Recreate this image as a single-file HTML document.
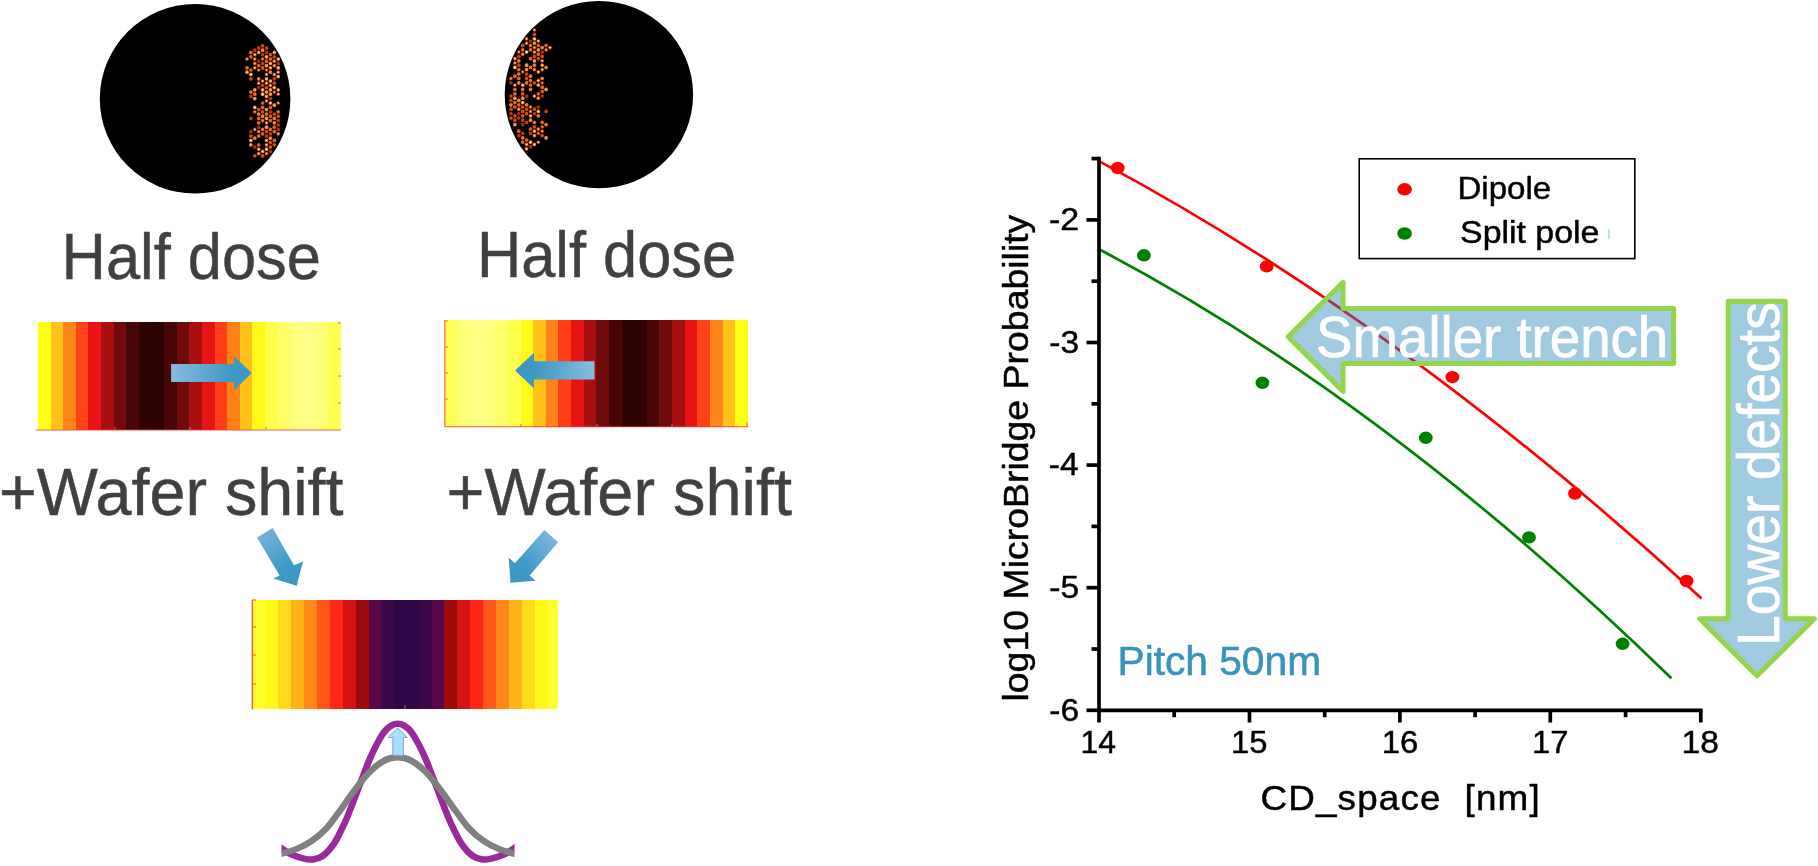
<!DOCTYPE html>
<html lang="en"><head><meta charset="utf-8"><title>Split pole illumination: half dose + wafer shift</title>
<style>
html,body{margin:0;padding:0;background:#fff;}
body{width:1818px;height:866px;overflow:hidden;}
svg{display:block;position:absolute;left:0;top:0;filter:blur(0.35px);}
text{font-family:"Liberation Sans",sans-serif;white-space:pre;}
</style></head><body>
<svg width="1818" height="866" viewBox="0 0 1818 866">
<defs>
<linearGradient id="gR" x1="0" y1="0" x2="1" y2="0"><stop offset="0" stop-color="#86bce0"/><stop offset="0.75" stop-color="#3f99c4"/><stop offset="1" stop-color="#3a98c6"/></linearGradient>
<linearGradient id="gL" x1="1" y1="0" x2="0" y2="0"><stop offset="0" stop-color="#86bce0"/><stop offset="0.75" stop-color="#3f99c4"/><stop offset="1" stop-color="#3a98c6"/></linearGradient>
<linearGradient id="gD1" x1="0.2" y1="0" x2="0.8" y2="1"><stop offset="0" stop-color="#74b2dd"/><stop offset="0.7" stop-color="#3f9ac5"/><stop offset="1" stop-color="#3c99c4"/></linearGradient>
<linearGradient id="gD2" x1="0.9" y1="0.1" x2="0.1" y2="0.9"><stop offset="0" stop-color="#7cb6e0"/><stop offset="0.7" stop-color="#3f9ac5"/><stop offset="1" stop-color="#3c99c4"/></linearGradient>
<clipPath id="c1"><ellipse cx="195.1" cy="98.8" rx="95.3" ry="94.8"/></clipPath>
<clipPath id="c2"><ellipse cx="598.9" cy="94.6" rx="94.2" ry="93.7"/></clipPath>
</defs>
<ellipse cx="195.1" cy="98.8" rx="95.3" ry="94.8" fill="#000"/>
<ellipse cx="598.9" cy="94.6" rx="94.2" ry="93.7" fill="#000"/>
<g clip-path="url(#c1)"><circle cx="247.0" cy="59.0" r="1.85" fill="#d04a0e"/><circle cx="247.0" cy="59.0" r="0.9" fill="#ffb870"/><circle cx="247.0" cy="67.8" r="1.85" fill="#e86c1c"/><circle cx="247.0" cy="72.2" r="1.85" fill="#f08830"/><circle cx="247.0" cy="72.2" r="0.9" fill="#ffc890"/><circle cx="250.9" cy="52.4" r="1.85" fill="#e86c1c"/><circle cx="250.9" cy="56.8" r="1.85" fill="#e86418"/><circle cx="250.9" cy="70.0" r="1.85" fill="#e05a14"/><circle cx="250.9" cy="74.4" r="1.85" fill="#f89848"/><circle cx="250.9" cy="74.4" r="0.9" fill="#fff0e0"/><circle cx="250.9" cy="78.8" r="1.85" fill="#d04a0e"/><circle cx="250.9" cy="92.0" r="1.85" fill="#f07820"/><circle cx="250.9" cy="96.4" r="1.85" fill="#b8380a"/><circle cx="250.9" cy="118.4" r="1.85" fill="#b8380a"/><circle cx="250.9" cy="131.6" r="1.85" fill="#a83008"/><circle cx="250.9" cy="136.0" r="1.85" fill="#d85010"/><circle cx="250.9" cy="140.4" r="1.85" fill="#f08830"/><circle cx="250.9" cy="140.4" r="0.9" fill="#fff0e0"/><circle cx="250.9" cy="144.8" r="1.85" fill="#f08830"/><circle cx="250.9" cy="144.8" r="0.9" fill="#ffb870"/><circle cx="254.8" cy="50.2" r="1.85" fill="#b8380a"/><circle cx="254.8" cy="54.6" r="1.85" fill="#d04a0e"/><circle cx="254.8" cy="54.6" r="0.9" fill="#ffe8d0"/><circle cx="254.8" cy="59.0" r="1.85" fill="#d04a0e"/><circle cx="254.8" cy="59.0" r="0.9" fill="#ffc890"/><circle cx="254.8" cy="63.4" r="1.85" fill="#e05a14"/><circle cx="254.8" cy="63.4" r="0.9" fill="#ffa860"/><circle cx="254.8" cy="67.8" r="1.85" fill="#d85010"/><circle cx="254.8" cy="67.8" r="0.9" fill="#ffe8d0"/><circle cx="254.8" cy="89.8" r="1.85" fill="#f89848"/><circle cx="254.8" cy="94.2" r="1.85" fill="#e86c1c"/><circle cx="254.8" cy="98.6" r="1.85" fill="#f89848"/><circle cx="254.8" cy="107.4" r="1.85" fill="#f89848"/><circle cx="254.8" cy="107.4" r="0.9" fill="#fff0e0"/><circle cx="254.8" cy="111.8" r="1.85" fill="#c8400c"/><circle cx="254.8" cy="111.8" r="0.9" fill="#ffb870"/><circle cx="254.8" cy="129.4" r="1.85" fill="#b8380a"/><circle cx="254.8" cy="129.4" r="0.9" fill="#ffe8d0"/><circle cx="254.8" cy="138.2" r="1.85" fill="#f07820"/><circle cx="254.8" cy="147.0" r="1.85" fill="#b8380a"/><circle cx="254.8" cy="155.8" r="1.85" fill="#d04a0e"/><circle cx="258.7" cy="48.0" r="1.85" fill="#c8400c"/><circle cx="258.7" cy="52.4" r="1.85" fill="#e86418"/><circle cx="258.7" cy="52.4" r="0.9" fill="#fff0e0"/><circle cx="258.7" cy="61.2" r="1.85" fill="#a83008"/><circle cx="258.7" cy="65.6" r="1.85" fill="#e86418"/><circle cx="258.7" cy="70.0" r="1.85" fill="#b8380a"/><circle cx="258.7" cy="70.0" r="0.9" fill="#ffb870"/><circle cx="258.7" cy="78.8" r="1.85" fill="#e05a14"/><circle cx="258.7" cy="78.8" r="0.9" fill="#ffc890"/><circle cx="258.7" cy="83.2" r="1.85" fill="#d85010"/><circle cx="258.7" cy="83.2" r="0.9" fill="#ffe8d0"/><circle cx="258.7" cy="87.6" r="1.85" fill="#a83008"/><circle cx="258.7" cy="109.6" r="1.85" fill="#d04a0e"/><circle cx="258.7" cy="114.0" r="1.85" fill="#f08830"/><circle cx="258.7" cy="118.4" r="1.85" fill="#e86c1c"/><circle cx="258.7" cy="122.8" r="1.85" fill="#e86418"/><circle cx="258.7" cy="127.2" r="1.85" fill="#a83008"/><circle cx="258.7" cy="131.6" r="1.85" fill="#d85010"/><circle cx="258.7" cy="131.6" r="0.9" fill="#ffa860"/><circle cx="258.7" cy="136.0" r="1.85" fill="#e86c1c"/><circle cx="258.7" cy="144.8" r="1.85" fill="#e05a14"/><circle cx="258.7" cy="149.2" r="1.85" fill="#e86418"/><circle cx="258.7" cy="149.2" r="0.9" fill="#ffe8d0"/><circle cx="258.7" cy="153.6" r="1.85" fill="#e86c1c"/><circle cx="258.7" cy="153.6" r="0.9" fill="#ffb870"/><circle cx="262.6" cy="45.8" r="1.85" fill="#d04a0e"/><circle cx="262.6" cy="50.2" r="1.85" fill="#f08830"/><circle cx="262.6" cy="54.6" r="1.85" fill="#b8380a"/><circle cx="262.6" cy="59.0" r="1.85" fill="#d04a0e"/><circle cx="262.6" cy="59.0" r="0.9" fill="#ffa860"/><circle cx="262.6" cy="63.4" r="1.85" fill="#c8400c"/><circle cx="262.6" cy="67.8" r="1.85" fill="#e05a14"/><circle cx="262.6" cy="81.0" r="1.85" fill="#c8400c"/><circle cx="262.6" cy="81.0" r="0.9" fill="#fff0e0"/><circle cx="262.6" cy="85.4" r="1.85" fill="#c8400c"/><circle cx="262.6" cy="89.8" r="1.85" fill="#f08830"/><circle cx="262.6" cy="89.8" r="0.9" fill="#fff0e0"/><circle cx="262.6" cy="94.2" r="1.85" fill="#f89848"/><circle cx="262.6" cy="94.2" r="0.9" fill="#fff0e0"/><circle cx="262.6" cy="103.0" r="1.85" fill="#e05a14"/><circle cx="262.6" cy="107.4" r="1.85" fill="#e86418"/><circle cx="262.6" cy="111.8" r="1.85" fill="#d85010"/><circle cx="262.6" cy="116.2" r="1.85" fill="#f08830"/><circle cx="262.6" cy="120.6" r="1.85" fill="#d85010"/><circle cx="262.6" cy="120.6" r="0.9" fill="#ffa860"/><circle cx="262.6" cy="129.4" r="1.85" fill="#d85010"/><circle cx="262.6" cy="129.4" r="0.9" fill="#ffb870"/><circle cx="262.6" cy="133.8" r="1.85" fill="#e86418"/><circle cx="262.6" cy="151.4" r="1.85" fill="#e86c1c"/><circle cx="262.6" cy="151.4" r="0.9" fill="#fff0e0"/><circle cx="262.6" cy="155.8" r="1.85" fill="#d85010"/><circle cx="266.5" cy="48.0" r="1.85" fill="#c8400c"/><circle cx="266.5" cy="52.4" r="1.85" fill="#a83008"/><circle cx="266.5" cy="56.8" r="1.85" fill="#f89848"/><circle cx="266.5" cy="56.8" r="0.9" fill="#ffb870"/><circle cx="266.5" cy="61.2" r="1.85" fill="#e86418"/><circle cx="266.5" cy="65.6" r="1.85" fill="#f89848"/><circle cx="266.5" cy="70.0" r="1.85" fill="#a83008"/><circle cx="266.5" cy="70.0" r="0.9" fill="#ffa860"/><circle cx="266.5" cy="74.4" r="1.85" fill="#c8400c"/><circle cx="266.5" cy="74.4" r="0.9" fill="#ffe8d0"/><circle cx="266.5" cy="78.8" r="1.85" fill="#f89848"/><circle cx="266.5" cy="78.8" r="0.9" fill="#ffc890"/><circle cx="266.5" cy="83.2" r="1.85" fill="#d04a0e"/><circle cx="266.5" cy="83.2" r="0.9" fill="#fff0e0"/><circle cx="266.5" cy="87.6" r="1.85" fill="#d85010"/><circle cx="266.5" cy="92.0" r="1.85" fill="#f89848"/><circle cx="266.5" cy="96.4" r="1.85" fill="#f07820"/><circle cx="266.5" cy="96.4" r="0.9" fill="#ffe8d0"/><circle cx="266.5" cy="100.8" r="1.85" fill="#d04a0e"/><circle cx="266.5" cy="100.8" r="0.9" fill="#ffe8d0"/><circle cx="266.5" cy="109.6" r="1.85" fill="#f08830"/><circle cx="266.5" cy="109.6" r="0.9" fill="#ffa860"/><circle cx="266.5" cy="114.0" r="1.85" fill="#f07820"/><circle cx="266.5" cy="118.4" r="1.85" fill="#f89848"/><circle cx="266.5" cy="122.8" r="1.85" fill="#d04a0e"/><circle cx="266.5" cy="122.8" r="0.9" fill="#fff0e0"/><circle cx="266.5" cy="127.2" r="1.85" fill="#f89848"/><circle cx="266.5" cy="131.6" r="1.85" fill="#d04a0e"/><circle cx="266.5" cy="136.0" r="1.85" fill="#c8400c"/><circle cx="266.5" cy="140.4" r="1.85" fill="#e86c1c"/><circle cx="266.5" cy="140.4" r="0.9" fill="#ffe8d0"/><circle cx="266.5" cy="144.8" r="1.85" fill="#d85010"/><circle cx="266.5" cy="144.8" r="0.9" fill="#fff0e0"/><circle cx="266.5" cy="149.2" r="1.85" fill="#f08830"/><circle cx="266.5" cy="149.2" r="0.9" fill="#ffe8d0"/><circle cx="266.5" cy="153.6" r="1.85" fill="#c8400c"/><circle cx="266.5" cy="153.6" r="0.9" fill="#ffc890"/><circle cx="270.4" cy="54.6" r="1.85" fill="#d85010"/><circle cx="270.4" cy="59.0" r="1.85" fill="#e86418"/><circle cx="270.4" cy="63.4" r="1.85" fill="#f07820"/><circle cx="270.4" cy="63.4" r="0.9" fill="#ffe8d0"/><circle cx="270.4" cy="67.8" r="1.85" fill="#e86c1c"/><circle cx="270.4" cy="67.8" r="0.9" fill="#fff0e0"/><circle cx="270.4" cy="72.2" r="1.85" fill="#f08830"/><circle cx="270.4" cy="81.0" r="1.85" fill="#f89848"/><circle cx="270.4" cy="81.0" r="0.9" fill="#ffb870"/><circle cx="270.4" cy="85.4" r="1.85" fill="#d04a0e"/><circle cx="270.4" cy="85.4" r="0.9" fill="#fff0e0"/><circle cx="270.4" cy="89.8" r="1.85" fill="#f89848"/><circle cx="270.4" cy="94.2" r="1.85" fill="#f89848"/><circle cx="270.4" cy="98.6" r="1.85" fill="#b8380a"/><circle cx="270.4" cy="103.0" r="1.85" fill="#f08830"/><circle cx="270.4" cy="103.0" r="0.9" fill="#fff0e0"/><circle cx="270.4" cy="107.4" r="1.85" fill="#e05a14"/><circle cx="270.4" cy="111.8" r="1.85" fill="#b8380a"/><circle cx="270.4" cy="116.2" r="1.85" fill="#e05a14"/><circle cx="270.4" cy="120.6" r="1.85" fill="#e86418"/><circle cx="270.4" cy="129.4" r="1.85" fill="#e86418"/><circle cx="270.4" cy="133.8" r="1.85" fill="#c8400c"/><circle cx="270.4" cy="138.2" r="1.85" fill="#f07820"/><circle cx="270.4" cy="138.2" r="0.9" fill="#ffa860"/><circle cx="270.4" cy="142.6" r="1.85" fill="#d85010"/><circle cx="270.4" cy="147.0" r="1.85" fill="#e05a14"/><circle cx="270.4" cy="151.4" r="1.85" fill="#a83008"/><circle cx="274.3" cy="52.4" r="1.85" fill="#f08830"/><circle cx="274.3" cy="52.4" r="0.9" fill="#ffc890"/><circle cx="274.3" cy="56.8" r="1.85" fill="#d04a0e"/><circle cx="274.3" cy="61.2" r="1.85" fill="#d04a0e"/><circle cx="274.3" cy="61.2" r="0.9" fill="#ffc890"/><circle cx="274.3" cy="65.6" r="1.85" fill="#e86c1c"/><circle cx="274.3" cy="65.6" r="0.9" fill="#ffa860"/><circle cx="274.3" cy="74.4" r="1.85" fill="#d04a0e"/><circle cx="274.3" cy="74.4" r="0.9" fill="#ffe8d0"/><circle cx="274.3" cy="78.8" r="1.85" fill="#c8400c"/><circle cx="274.3" cy="83.2" r="1.85" fill="#d04a0e"/><circle cx="274.3" cy="87.6" r="1.85" fill="#f08830"/><circle cx="274.3" cy="87.6" r="0.9" fill="#ffe8d0"/><circle cx="274.3" cy="92.0" r="1.85" fill="#c8400c"/><circle cx="274.3" cy="92.0" r="0.9" fill="#ffa860"/><circle cx="274.3" cy="105.2" r="1.85" fill="#f89848"/><circle cx="274.3" cy="114.0" r="1.85" fill="#d04a0e"/><circle cx="274.3" cy="118.4" r="1.85" fill="#f07820"/><circle cx="274.3" cy="122.8" r="1.85" fill="#f07820"/><circle cx="274.3" cy="122.8" r="0.9" fill="#ffa860"/><circle cx="274.3" cy="127.2" r="1.85" fill="#e05a14"/><circle cx="274.3" cy="131.6" r="1.85" fill="#e86c1c"/><circle cx="274.3" cy="140.4" r="1.85" fill="#e86418"/><circle cx="274.3" cy="144.8" r="1.85" fill="#d85010"/><circle cx="278.2" cy="59.0" r="1.85" fill="#f89848"/><circle cx="278.2" cy="59.0" r="0.9" fill="#ffb870"/><circle cx="278.2" cy="63.4" r="1.85" fill="#a83008"/><circle cx="278.2" cy="67.8" r="1.85" fill="#f89848"/><circle cx="278.2" cy="67.8" r="0.9" fill="#ffe8d0"/><circle cx="278.2" cy="72.2" r="1.85" fill="#c8400c"/><circle cx="278.2" cy="72.2" r="0.9" fill="#ffe8d0"/><circle cx="278.2" cy="76.6" r="1.85" fill="#f89848"/><circle cx="278.2" cy="76.6" r="0.9" fill="#ffc890"/><circle cx="278.2" cy="89.8" r="1.85" fill="#e86418"/><circle cx="278.2" cy="89.8" r="0.9" fill="#fff0e0"/><circle cx="278.2" cy="94.2" r="1.85" fill="#b8380a"/><circle cx="278.2" cy="94.2" r="0.9" fill="#fff0e0"/><circle cx="278.2" cy="103.0" r="1.85" fill="#b8380a"/><circle cx="278.2" cy="103.0" r="0.9" fill="#ffc890"/><circle cx="278.2" cy="111.8" r="1.85" fill="#e86418"/><circle cx="278.2" cy="116.2" r="1.85" fill="#d04a0e"/><circle cx="278.2" cy="120.6" r="1.85" fill="#b8380a"/><circle cx="278.2" cy="125.0" r="1.85" fill="#b8380a"/><circle cx="278.2" cy="129.4" r="1.85" fill="#a83008"/><circle cx="278.2" cy="133.8" r="1.85" fill="#e05a14"/><circle cx="278.2" cy="133.8" r="0.9" fill="#ffc890"/></g>
<g clip-path="url(#c2)"><circle cx="511.0" cy="78.4" r="1.85" fill="#b8380a"/><circle cx="511.0" cy="78.4" r="0.9" fill="#ffb870"/><circle cx="511.0" cy="82.8" r="1.85" fill="#a83008"/><circle cx="511.0" cy="96.0" r="1.85" fill="#c8400c"/><circle cx="511.0" cy="100.4" r="1.85" fill="#c8400c"/><circle cx="511.0" cy="104.8" r="1.85" fill="#f08830"/><circle cx="511.0" cy="109.2" r="1.85" fill="#d04a0e"/><circle cx="511.0" cy="113.6" r="1.85" fill="#b8380a"/><circle cx="511.0" cy="118.0" r="1.85" fill="#d85010"/><circle cx="514.9" cy="58.6" r="1.85" fill="#e05a14"/><circle cx="514.9" cy="58.6" r="0.9" fill="#ffe8d0"/><circle cx="514.9" cy="63.0" r="1.85" fill="#d04a0e"/><circle cx="514.9" cy="63.0" r="0.9" fill="#ffc890"/><circle cx="514.9" cy="67.4" r="1.85" fill="#f89848"/><circle cx="514.9" cy="67.4" r="0.9" fill="#ffe8d0"/><circle cx="514.9" cy="76.2" r="1.85" fill="#e86c1c"/><circle cx="514.9" cy="85.0" r="1.85" fill="#d04a0e"/><circle cx="514.9" cy="85.0" r="0.9" fill="#ffe8d0"/><circle cx="514.9" cy="89.4" r="1.85" fill="#e86c1c"/><circle cx="514.9" cy="93.8" r="1.85" fill="#e86c1c"/><circle cx="514.9" cy="98.2" r="1.85" fill="#f08830"/><circle cx="514.9" cy="98.2" r="0.9" fill="#ffa860"/><circle cx="514.9" cy="102.6" r="1.85" fill="#e86c1c"/><circle cx="514.9" cy="107.0" r="1.85" fill="#e86418"/><circle cx="514.9" cy="115.8" r="1.85" fill="#d85010"/><circle cx="514.9" cy="120.2" r="1.85" fill="#d85010"/><circle cx="514.9" cy="124.6" r="1.85" fill="#f89848"/><circle cx="518.8" cy="52.0" r="1.85" fill="#b8380a"/><circle cx="518.8" cy="52.0" r="0.9" fill="#ffc890"/><circle cx="518.8" cy="56.4" r="1.85" fill="#c8400c"/><circle cx="518.8" cy="60.8" r="1.85" fill="#f07820"/><circle cx="518.8" cy="65.2" r="1.85" fill="#c8400c"/><circle cx="518.8" cy="69.6" r="1.85" fill="#d04a0e"/><circle cx="518.8" cy="69.6" r="0.9" fill="#ffb870"/><circle cx="518.8" cy="74.0" r="1.85" fill="#f07820"/><circle cx="518.8" cy="78.4" r="1.85" fill="#e86418"/><circle cx="518.8" cy="82.8" r="1.85" fill="#f08830"/><circle cx="518.8" cy="100.4" r="1.85" fill="#f08830"/><circle cx="518.8" cy="104.8" r="1.85" fill="#e86418"/><circle cx="518.8" cy="109.2" r="1.85" fill="#e86418"/><circle cx="518.8" cy="109.2" r="0.9" fill="#ffa860"/><circle cx="518.8" cy="113.6" r="1.85" fill="#a83008"/><circle cx="518.8" cy="118.0" r="1.85" fill="#b8380a"/><circle cx="518.8" cy="131.2" r="1.85" fill="#e86418"/><circle cx="518.8" cy="135.6" r="1.85" fill="#b8380a"/><circle cx="522.7" cy="45.4" r="1.85" fill="#d85010"/><circle cx="522.7" cy="49.8" r="1.85" fill="#e86c1c"/><circle cx="522.7" cy="54.2" r="1.85" fill="#d85010"/><circle cx="522.7" cy="54.2" r="0.9" fill="#ffb870"/><circle cx="522.7" cy="71.8" r="1.85" fill="#a83008"/><circle cx="522.7" cy="71.8" r="0.9" fill="#ffc890"/><circle cx="522.7" cy="85.0" r="1.85" fill="#f07820"/><circle cx="522.7" cy="85.0" r="0.9" fill="#fff0e0"/><circle cx="522.7" cy="89.4" r="1.85" fill="#f07820"/><circle cx="522.7" cy="93.8" r="1.85" fill="#e05a14"/><circle cx="522.7" cy="98.2" r="1.85" fill="#f08830"/><circle cx="522.7" cy="102.6" r="1.85" fill="#f08830"/><circle cx="522.7" cy="102.6" r="0.9" fill="#fff0e0"/><circle cx="522.7" cy="107.0" r="1.85" fill="#d85010"/><circle cx="522.7" cy="111.4" r="1.85" fill="#d85010"/><circle cx="522.7" cy="115.8" r="1.85" fill="#e05a14"/><circle cx="522.7" cy="120.2" r="1.85" fill="#c8400c"/><circle cx="522.7" cy="124.6" r="1.85" fill="#a83008"/><circle cx="522.7" cy="133.4" r="1.85" fill="#b8380a"/><circle cx="522.7" cy="137.8" r="1.85" fill="#f07820"/><circle cx="522.7" cy="142.2" r="1.85" fill="#e86418"/><circle cx="526.6" cy="38.8" r="1.85" fill="#c8400c"/><circle cx="526.6" cy="38.8" r="0.9" fill="#ffe8d0"/><circle cx="526.6" cy="43.2" r="1.85" fill="#c8400c"/><circle cx="526.6" cy="43.2" r="0.9" fill="#ffe8d0"/><circle cx="526.6" cy="52.0" r="1.85" fill="#f89848"/><circle cx="526.6" cy="52.0" r="0.9" fill="#ffe8d0"/><circle cx="526.6" cy="65.2" r="1.85" fill="#f89848"/><circle cx="526.6" cy="69.6" r="1.85" fill="#f08830"/><circle cx="526.6" cy="74.0" r="1.85" fill="#c8400c"/><circle cx="526.6" cy="78.4" r="1.85" fill="#d04a0e"/><circle cx="526.6" cy="82.8" r="1.85" fill="#f07820"/><circle cx="526.6" cy="96.0" r="1.85" fill="#a83008"/><circle cx="526.6" cy="104.8" r="1.85" fill="#f07820"/><circle cx="526.6" cy="109.2" r="1.85" fill="#d04a0e"/><circle cx="526.6" cy="113.6" r="1.85" fill="#d85010"/><circle cx="526.6" cy="122.4" r="1.85" fill="#c8400c"/><circle cx="526.6" cy="140.0" r="1.85" fill="#e86418"/><circle cx="526.6" cy="144.4" r="1.85" fill="#d85010"/><circle cx="526.6" cy="144.4" r="0.9" fill="#ffe8d0"/><circle cx="526.6" cy="148.8" r="1.85" fill="#e86418"/><circle cx="526.6" cy="148.8" r="0.9" fill="#fff0e0"/><circle cx="530.5" cy="41.0" r="1.85" fill="#a83008"/><circle cx="530.5" cy="45.4" r="1.85" fill="#d04a0e"/><circle cx="530.5" cy="45.4" r="0.9" fill="#ffa860"/><circle cx="530.5" cy="49.8" r="1.85" fill="#e86c1c"/><circle cx="530.5" cy="58.6" r="1.85" fill="#e86418"/><circle cx="530.5" cy="67.4" r="1.85" fill="#e86c1c"/><circle cx="530.5" cy="76.2" r="1.85" fill="#f07820"/><circle cx="530.5" cy="80.6" r="1.85" fill="#e86c1c"/><circle cx="530.5" cy="85.0" r="1.85" fill="#e86418"/><circle cx="530.5" cy="89.4" r="1.85" fill="#f07820"/><circle cx="530.5" cy="107.0" r="1.85" fill="#d04a0e"/><circle cx="530.5" cy="107.0" r="0.9" fill="#ffb870"/><circle cx="530.5" cy="111.4" r="1.85" fill="#c8400c"/><circle cx="530.5" cy="111.4" r="0.9" fill="#ffc890"/><circle cx="530.5" cy="115.8" r="1.85" fill="#e86c1c"/><circle cx="530.5" cy="115.8" r="0.9" fill="#ffe8d0"/><circle cx="530.5" cy="120.2" r="1.85" fill="#f08830"/><circle cx="530.5" cy="129.0" r="1.85" fill="#e05a14"/><circle cx="530.5" cy="133.4" r="1.85" fill="#b8380a"/><circle cx="530.5" cy="142.2" r="1.85" fill="#f08830"/><circle cx="530.5" cy="142.2" r="0.9" fill="#fff0e0"/><circle cx="530.5" cy="146.6" r="1.85" fill="#a83008"/><circle cx="534.4" cy="30.0" r="1.85" fill="#a83008"/><circle cx="534.4" cy="30.0" r="0.9" fill="#ffe8d0"/><circle cx="534.4" cy="34.4" r="1.85" fill="#d04a0e"/><circle cx="534.4" cy="38.8" r="1.85" fill="#f89848"/><circle cx="534.4" cy="38.8" r="0.9" fill="#ffe8d0"/><circle cx="534.4" cy="43.2" r="1.85" fill="#f08830"/><circle cx="534.4" cy="47.6" r="1.85" fill="#d04a0e"/><circle cx="534.4" cy="47.6" r="0.9" fill="#ffc890"/><circle cx="534.4" cy="52.0" r="1.85" fill="#e86418"/><circle cx="534.4" cy="52.0" r="0.9" fill="#ffa860"/><circle cx="534.4" cy="56.4" r="1.85" fill="#d04a0e"/><circle cx="534.4" cy="60.8" r="1.85" fill="#f89848"/><circle cx="534.4" cy="65.2" r="1.85" fill="#f07820"/><circle cx="534.4" cy="69.6" r="1.85" fill="#d85010"/><circle cx="534.4" cy="69.6" r="0.9" fill="#ffc890"/><circle cx="534.4" cy="82.8" r="1.85" fill="#d04a0e"/><circle cx="534.4" cy="96.0" r="1.85" fill="#d04a0e"/><circle cx="534.4" cy="96.0" r="0.9" fill="#fff0e0"/><circle cx="534.4" cy="109.2" r="1.85" fill="#d85010"/><circle cx="534.4" cy="113.6" r="1.85" fill="#b8380a"/><circle cx="534.4" cy="122.4" r="1.85" fill="#d04a0e"/><circle cx="534.4" cy="122.4" r="0.9" fill="#ffb870"/><circle cx="534.4" cy="126.8" r="1.85" fill="#d04a0e"/><circle cx="534.4" cy="131.2" r="1.85" fill="#e86c1c"/><circle cx="534.4" cy="131.2" r="0.9" fill="#ffe8d0"/><circle cx="534.4" cy="135.6" r="1.85" fill="#e86c1c"/><circle cx="534.4" cy="135.6" r="0.9" fill="#ffb870"/><circle cx="534.4" cy="144.4" r="1.85" fill="#e86c1c"/><circle cx="534.4" cy="144.4" r="0.9" fill="#fff0e0"/><circle cx="538.3" cy="41.0" r="1.85" fill="#d85010"/><circle cx="538.3" cy="41.0" r="0.9" fill="#ffe8d0"/><circle cx="538.3" cy="45.4" r="1.85" fill="#e05a14"/><circle cx="538.3" cy="49.8" r="1.85" fill="#f89848"/><circle cx="538.3" cy="54.2" r="1.85" fill="#e86418"/><circle cx="538.3" cy="58.6" r="1.85" fill="#d04a0e"/><circle cx="538.3" cy="71.8" r="1.85" fill="#e86c1c"/><circle cx="538.3" cy="71.8" r="0.9" fill="#ffe8d0"/><circle cx="538.3" cy="80.6" r="1.85" fill="#e86418"/><circle cx="538.3" cy="80.6" r="0.9" fill="#fff0e0"/><circle cx="538.3" cy="85.0" r="1.85" fill="#f89848"/><circle cx="538.3" cy="85.0" r="0.9" fill="#ffb870"/><circle cx="538.3" cy="93.8" r="1.85" fill="#e05a14"/><circle cx="538.3" cy="98.2" r="1.85" fill="#e86418"/><circle cx="538.3" cy="98.2" r="0.9" fill="#ffb870"/><circle cx="538.3" cy="107.0" r="1.85" fill="#a83008"/><circle cx="538.3" cy="111.4" r="1.85" fill="#f08830"/><circle cx="538.3" cy="111.4" r="0.9" fill="#ffe8d0"/><circle cx="538.3" cy="115.8" r="1.85" fill="#f07820"/><circle cx="538.3" cy="129.0" r="1.85" fill="#e86418"/><circle cx="538.3" cy="129.0" r="0.9" fill="#ffa860"/><circle cx="538.3" cy="133.4" r="1.85" fill="#a83008"/><circle cx="538.3" cy="133.4" r="0.9" fill="#ffa860"/><circle cx="538.3" cy="142.2" r="1.85" fill="#a83008"/><circle cx="538.3" cy="142.2" r="0.9" fill="#fff0e0"/><circle cx="542.2" cy="47.6" r="1.85" fill="#f08830"/><circle cx="542.2" cy="52.0" r="1.85" fill="#b8380a"/><circle cx="542.2" cy="56.4" r="1.85" fill="#d85010"/><circle cx="542.2" cy="60.8" r="1.85" fill="#c8400c"/><circle cx="542.2" cy="60.8" r="0.9" fill="#ffe8d0"/><circle cx="542.2" cy="65.2" r="1.85" fill="#e86c1c"/><circle cx="542.2" cy="65.2" r="0.9" fill="#fff0e0"/><circle cx="542.2" cy="69.6" r="1.85" fill="#d04a0e"/><circle cx="542.2" cy="69.6" r="0.9" fill="#ffe8d0"/><circle cx="542.2" cy="78.4" r="1.85" fill="#e86418"/><circle cx="542.2" cy="78.4" r="0.9" fill="#ffa860"/><circle cx="542.2" cy="82.8" r="1.85" fill="#a83008"/><circle cx="542.2" cy="82.8" r="0.9" fill="#ffa860"/><circle cx="542.2" cy="87.2" r="1.85" fill="#e86c1c"/><circle cx="542.2" cy="91.6" r="1.85" fill="#e05a14"/><circle cx="542.2" cy="96.0" r="1.85" fill="#a83008"/><circle cx="542.2" cy="122.4" r="1.85" fill="#e86418"/><circle cx="542.2" cy="126.8" r="1.85" fill="#b8380a"/><circle cx="542.2" cy="126.8" r="0.9" fill="#ffa860"/><circle cx="542.2" cy="131.2" r="1.85" fill="#b8380a"/><circle cx="542.2" cy="131.2" r="0.9" fill="#ffc890"/><circle cx="542.2" cy="135.6" r="1.85" fill="#d04a0e"/><circle cx="546.1" cy="45.4" r="1.85" fill="#e05a14"/><circle cx="546.1" cy="49.8" r="1.85" fill="#c8400c"/><circle cx="546.1" cy="49.8" r="0.9" fill="#ffe8d0"/><circle cx="546.1" cy="67.4" r="1.85" fill="#e86c1c"/><circle cx="546.1" cy="67.4" r="0.9" fill="#ffa860"/><circle cx="546.1" cy="89.4" r="1.85" fill="#f89848"/><circle cx="546.1" cy="111.4" r="1.85" fill="#c8400c"/><circle cx="546.1" cy="124.6" r="1.85" fill="#f07820"/><circle cx="546.1" cy="137.8" r="1.85" fill="#f89848"/><circle cx="550.0" cy="47.6" r="1.85" fill="#d04a0e"/><circle cx="550.0" cy="47.6" r="0.9" fill="#ffe8d0"/></g>
<g shape-rendering="crispEdges"><rect x="38.00" y="322.00" width="13.21" height="107.80" fill="#ffff14"/><rect x="50.61" y="322.00" width="13.21" height="107.80" fill="#ffc418"/><rect x="63.22" y="322.00" width="13.21" height="107.80" fill="#ff8618"/><rect x="75.83" y="322.00" width="13.21" height="107.80" fill="#ff4218"/><rect x="88.43" y="322.00" width="13.21" height="107.80" fill="#ea1414"/><rect x="101.04" y="322.00" width="13.21" height="107.80" fill="#a80f0f"/><rect x="113.65" y="322.00" width="13.21" height="107.80" fill="#700b0b"/><rect x="126.26" y="322.00" width="13.21" height="107.80" fill="#480606"/><rect x="138.87" y="322.00" width="13.21" height="107.80" fill="#300303"/><rect x="151.48" y="322.00" width="13.21" height="107.80" fill="#2c0303"/><rect x="164.08" y="322.00" width="13.21" height="107.80" fill="#480606"/><rect x="176.69" y="322.00" width="13.21" height="107.80" fill="#700b0b"/><rect x="189.30" y="322.00" width="13.21" height="107.80" fill="#a80f0f"/><rect x="201.91" y="322.00" width="13.21" height="107.80" fill="#e81414"/><rect x="214.52" y="322.00" width="13.21" height="107.80" fill="#ff3e18"/><rect x="227.12" y="322.00" width="13.21" height="107.80" fill="#ff8218"/><rect x="239.73" y="322.00" width="13.21" height="107.80" fill="#ffc018"/><rect x="252.34" y="322.00" width="13.21" height="107.80" fill="#fff818"/><rect x="264.95" y="322.00" width="13.21" height="107.80" fill="#ffff50"/><rect x="277.56" y="322.00" width="13.21" height="107.80" fill="#ffff68"/><rect x="290.17" y="322.00" width="13.21" height="107.80" fill="#ffff80"/><rect x="302.78" y="322.00" width="13.21" height="107.80" fill="#ffff88"/><rect x="315.38" y="322.00" width="13.21" height="107.80" fill="#ffff78"/><rect x="327.99" y="322.00" width="12.61" height="107.80" fill="#ffff50"/></g>
<path d="M36 430H341" stroke="#ff3030" stroke-opacity="0.8" stroke-width="1.1" fill="none"/>
<path d="M338 323h3M338 349h3M338 376h3M338 403h3M115 427v3M190 427v3M266 427v3" stroke="#ff5a4a" stroke-width="1" fill="none"/>
<g shape-rendering="crispEdges"><rect x="444.80" y="320.00" width="13.22" height="106.50" fill="#ffff50"/><rect x="457.43" y="320.00" width="13.22" height="106.50" fill="#ffff78"/><rect x="470.05" y="320.00" width="13.22" height="106.50" fill="#ffff88"/><rect x="482.68" y="320.00" width="13.22" height="106.50" fill="#ffff80"/><rect x="495.30" y="320.00" width="13.22" height="106.50" fill="#ffff68"/><rect x="507.93" y="320.00" width="13.22" height="106.50" fill="#ffff50"/><rect x="520.55" y="320.00" width="13.22" height="106.50" fill="#fff818"/><rect x="533.17" y="320.00" width="13.22" height="106.50" fill="#ffc018"/><rect x="545.80" y="320.00" width="13.22" height="106.50" fill="#ff8218"/><rect x="558.42" y="320.00" width="13.22" height="106.50" fill="#ff3e18"/><rect x="571.05" y="320.00" width="13.22" height="106.50" fill="#e81414"/><rect x="583.67" y="320.00" width="13.22" height="106.50" fill="#a80f0f"/><rect x="596.30" y="320.00" width="13.22" height="106.50" fill="#700b0b"/><rect x="608.92" y="320.00" width="13.22" height="106.50" fill="#480606"/><rect x="621.55" y="320.00" width="13.22" height="106.50" fill="#2c0303"/><rect x="634.17" y="320.00" width="13.22" height="106.50" fill="#300303"/><rect x="646.80" y="320.00" width="13.22" height="106.50" fill="#480606"/><rect x="659.42" y="320.00" width="13.22" height="106.50" fill="#700b0b"/><rect x="672.05" y="320.00" width="13.22" height="106.50" fill="#a80f0f"/><rect x="684.67" y="320.00" width="13.22" height="106.50" fill="#ea1414"/><rect x="697.30" y="320.00" width="13.22" height="106.50" fill="#ff4218"/><rect x="709.92" y="320.00" width="13.22" height="106.50" fill="#ff8618"/><rect x="722.55" y="320.00" width="13.22" height="106.50" fill="#ffc418"/><rect x="735.17" y="320.00" width="12.62" height="106.50" fill="#ffff14"/></g>
<path d="M444.8 320V426.8H748" stroke="#ff3030" stroke-opacity="0.8" stroke-width="1.1" fill="none"/>
<path d="M445 321h3M445 347h3M445 373h3M445 399h3M521 424v3M597 424v3M672 424v3M747 422v4" stroke="#ff5a4a" stroke-width="1" fill="none"/>
<g shape-rendering="crispEdges"><rect x="252.00" y="599.8" width="13.55" height="109.6" fill="#ffff30"/><rect x="264.95" y="599.8" width="13.55" height="109.6" fill="#fff818"/><rect x="277.90" y="599.8" width="13.55" height="109.6" fill="#ffdc18"/><rect x="290.85" y="599.8" width="13.55" height="109.6" fill="#ffb418"/><rect x="303.80" y="599.8" width="13.55" height="109.6" fill="#ff8818"/><rect x="316.75" y="599.8" width="13.55" height="109.6" fill="#ff5818"/><rect x="329.70" y="599.8" width="13.55" height="109.6" fill="#ff2818"/><rect x="342.65" y="599.8" width="13.55" height="109.6" fill="#d41414"/><rect x="355.60" y="599.8" width="13.55" height="109.6" fill="#9c0c0c"/><rect x="368.55" y="599.8" width="13.20" height="109.6" fill="#58084a"/><rect x="381.15" y="599.8" width="13.20" height="109.6" fill="#3c0848"/><rect x="393.75" y="599.8" width="13.20" height="109.6" fill="#300848"/><rect x="406.35" y="599.8" width="13.20" height="109.6" fill="#300848"/><rect x="418.95" y="599.8" width="13.20" height="109.6" fill="#3c0848"/><rect x="431.55" y="599.8" width="13.20" height="109.6" fill="#58084a"/><rect x="444.15" y="599.8" width="13.53" height="109.6" fill="#9c0c0c"/><rect x="457.08" y="599.8" width="13.53" height="109.6" fill="#d41414"/><rect x="470.01" y="599.8" width="13.53" height="109.6" fill="#ff2818"/><rect x="482.94" y="599.8" width="13.53" height="109.6" fill="#ff5818"/><rect x="495.87" y="599.8" width="13.53" height="109.6" fill="#ff8818"/><rect x="508.80" y="599.8" width="13.53" height="109.6" fill="#ffb418"/><rect x="521.73" y="599.8" width="13.53" height="109.6" fill="#ffdc18"/><rect x="534.66" y="599.8" width="13.53" height="109.6" fill="#fff818"/><rect x="547.59" y="599.8" width="10.71" height="109.6" fill="#ffff30"/></g>
<path d="M252.3 599.8V709.6" stroke="#ff4a30" stroke-width="1.3" fill="none"/>
<path d="M252 600h4M252 627h4M252 655h4M252 684h4M405 705v4" stroke="#ff4a30" stroke-width="1" fill="none"/>
<path d="M171.1 363.9H234.1V355.9L251.8 373.1L234.1 390.2V381.9H171.1Z" fill="url(#gR)"/>
<path d="M594.5 361.2H534V352.8L515 370.4L534 388.4V379.6H594.5Z" fill="url(#gL)"/>
<path d="M257 537.5L272.7 528.1L293.9 565.2L303 561.6L296.7 585.7L273.2 578.6L279.6 575.4Z" fill="url(#gD1)"/>
<path d="M544.4 530L558.1 542.2L529.6 575.4L535.6 580.8L510.5 582.8L508.7 557.4L514.9 563.2Z" fill="url(#gD2)"/>
<clipPath id="cc"><rect x="281.5" y="700" width="233" height="166"/></clipPath>
<g clip-path="url(#cc)">
<path d="M274.7 842.5 C275.9 843.5 278.9 846.5 281.6 848.5 C284.3 850.5 287.2 852.6 291.0 854.3 C294.8 856.0 300.5 857.8 304.1 858.6 C307.8 859.5 309.8 859.9 312.9 859.4 C316.0 858.9 319.6 858.1 323.0 855.7 C326.4 853.3 330.3 848.8 333.2 844.8 C336.1 840.8 338.1 836.6 340.5 831.7 C342.9 826.9 345.4 821.5 347.8 815.7 C350.2 809.9 352.7 803.1 355.1 796.8 C357.5 790.5 360.0 784.0 362.4 777.8 C364.8 771.6 367.2 765.0 369.6 759.4 C372.0 753.8 374.4 748.7 376.9 744.0 C379.4 739.3 382.2 734.5 384.7 731.4 C387.2 728.3 389.5 726.7 391.7 725.4 C393.9 724.1 395.7 723.8 397.7 723.8 C399.7 723.8 401.5 724.1 403.7 725.4 C405.9 726.7 408.2 728.3 410.7 731.4 C413.2 734.5 416.0 739.3 418.5 744.0 C421.0 748.7 423.4 753.8 425.8 759.4 C428.2 765.0 430.6 771.6 433.0 777.8 C435.4 784.0 437.9 790.5 440.3 796.8 C442.7 803.1 445.2 809.9 447.6 815.7 C450.0 821.5 452.5 826.9 454.9 831.7 C457.3 836.6 459.3 840.8 462.2 844.8 C465.1 848.8 469.0 853.3 472.4 855.7 C475.8 858.1 479.4 858.9 482.5 859.4 C485.6 859.9 487.6 859.5 491.3 858.6 C494.9 857.8 500.6 856.0 504.4 854.3 C508.1 852.6 511.1 850.5 513.8 848.5 C516.5 846.5 519.6 843.5 520.7 842.5" fill="none" stroke="#9a2a9c" stroke-width="6.6" stroke-linejoin="round"/>
<path d="M274.7 855.0 C275.9 854.8 277.9 854.6 281.6 853.6 C285.3 852.6 291.8 851.0 296.8 848.9 C301.8 846.8 306.5 844.6 311.4 841.2 C316.3 837.9 321.1 834.0 326.0 828.8 C330.9 823.6 335.6 816.4 340.5 809.9 C345.4 803.4 350.2 795.8 355.1 789.5 C359.9 783.2 364.7 776.8 369.6 772.0 C374.4 767.2 379.5 763.1 384.2 760.6 C388.9 758.1 393.2 757.2 397.7 757.2 C402.2 757.2 406.5 758.1 411.2 760.6 C415.9 763.1 420.9 767.2 425.8 772.0 C430.7 776.8 435.5 783.2 440.3 789.5 C445.1 795.8 450.0 803.4 454.9 809.9 C459.8 816.4 464.5 823.6 469.4 828.8 C474.2 834.0 479.1 837.9 484.0 841.2 C488.9 844.6 493.6 846.8 498.6 848.9 C503.6 851.0 510.1 852.6 513.8 853.6 C517.5 854.6 519.6 854.8 520.7 855.0" fill="none" stroke="#808080" stroke-width="6.4" stroke-linejoin="round"/>
</g>
<path d="M397.7 727.9L407.3 737.5H403.4V755.4H392.8V737.5H388.3Z" fill="#a4e2fb" stroke="#8c8ee0" stroke-width="0.9"/>
<path d="M1099.0 161.1Q1400.2 321.7 1701.5 598.4" fill="none" stroke="#ff0000" stroke-width="2.7"/>
<path d="M1098.6 249.0Q1385.0 399.3 1671.4 678.2" fill="none" stroke="#008000" stroke-width="2.7"/>
<ellipse cx="1117.7" cy="168.0" rx="6.9" ry="6.2" fill="#ff0000"/>
<ellipse cx="1266.7" cy="266.4" rx="6.9" ry="6.2" fill="#ff0000"/>
<ellipse cx="1452.4" cy="377.1" rx="6.9" ry="6.2" fill="#ff0000"/>
<ellipse cx="1575.0" cy="493.5" rx="6.9" ry="6.2" fill="#ff0000"/>
<ellipse cx="1686.5" cy="581.0" rx="6.9" ry="6.2" fill="#ff0000"/>
<ellipse cx="1143.9" cy="255.3" rx="6.9" ry="6.2" fill="#008000"/>
<ellipse cx="1262.4" cy="382.8" rx="6.9" ry="6.2" fill="#008000"/>
<ellipse cx="1425.8" cy="437.8" rx="6.9" ry="6.2" fill="#008000"/>
<ellipse cx="1529.0" cy="537.4" rx="6.9" ry="6.2" fill="#008000"/>
<ellipse cx="1622.6" cy="643.8" rx="6.9" ry="6.2" fill="#008000"/>
<g stroke="#000" stroke-width="3.7" fill="none" stroke-linecap="butt">
<path d="M1099.0 156.8V710.3H1702.6"/>
<path d="M1099.0 219.9H1086.5"/>
<path d="M1099.0 342.5H1086.5"/>
<path d="M1099.0 465.1H1086.5"/>
<path d="M1099.0 587.7H1086.5"/>
<path d="M1099.0 710.3H1086.5"/>
<path d="M1099.0 158.6H1091.5"/>
<path d="M1099.0 281.2H1091.5"/>
<path d="M1099.0 403.8H1091.5"/>
<path d="M1099.0 526.4H1091.5"/>
<path d="M1099.0 649.0H1091.5"/>
<path d="M1099.0 710.3V722.5"/>
<path d="M1249.5 710.3V722.5"/>
<path d="M1399.9 710.3V722.5"/>
<path d="M1550.3 710.3V722.5"/>
<path d="M1700.8 710.3V722.5"/>
<path d="M1174.2 710.3V717.2"/>
<path d="M1324.7 710.3V717.2"/>
<path d="M1475.1 710.3V717.2"/>
<path d="M1625.6 710.3V717.2"/>
</g>
<text id="ty2" transform="translate(1079.10 230.10) scale(1.0587 1)" font-size="32.00" fill="#000" text-anchor="end" stroke="#000" stroke-width="0.45" stroke-linejoin="round">-2</text>
<text id="ty3" transform="translate(1079.10 352.70) scale(1.0491 1)" font-size="32.00" fill="#000" text-anchor="end" stroke="#000" stroke-width="0.45" stroke-linejoin="round">-3</text>
<text id="ty4" transform="translate(1078.60 475.30) scale(1.0489 1)" font-size="32.00" fill="#000" text-anchor="end" stroke="#000" stroke-width="0.45" stroke-linejoin="round">-4</text>
<text id="ty5" transform="translate(1079.10 597.90) scale(1.0503 1)" font-size="32.00" fill="#000" text-anchor="end" stroke="#000" stroke-width="0.45" stroke-linejoin="round">-5</text>
<text id="ty6" transform="translate(1079.10 720.50) scale(1.0490 1)" font-size="32.00" fill="#000" text-anchor="end" stroke="#000" stroke-width="0.45" stroke-linejoin="round">-6</text>
<text id="tx14" transform="translate(1098.20 752.80) scale(0.9963 1)" font-size="32.00" fill="#000" text-anchor="middle" stroke="#000" stroke-width="0.45" stroke-linejoin="round">14</text>
<text id="tx15" transform="translate(1249.15 752.80) scale(1.0255 1)" font-size="32.00" fill="#000" text-anchor="middle" stroke="#000" stroke-width="0.45" stroke-linejoin="round">15</text>
<text id="tx16" transform="translate(1400.10 752.80) scale(1.0267 1)" font-size="32.00" fill="#000" text-anchor="middle" stroke="#000" stroke-width="0.45" stroke-linejoin="round">16</text>
<text id="tx17" transform="translate(1550.25 752.80) scale(1.0256 1)" font-size="32.00" fill="#000" text-anchor="middle" stroke="#000" stroke-width="0.45" stroke-linejoin="round">17</text>
<text id="tx18" transform="translate(1700.20 752.80) scale(1.0525 1)" font-size="32.00" fill="#000" text-anchor="middle" stroke="#000" stroke-width="0.45" stroke-linejoin="round">18</text>
<text id="xlab" transform="translate(1400.60 809.60) scale(1.0663 1)" font-size="34.56" fill="#000" text-anchor="middle" letter-spacing="1.09" stroke="#000" stroke-width="0.45" stroke-linejoin="round">CD_space&#160;&#160;[nm]</text>
<text id="ylab" transform="translate(1028.40 458.10) rotate(-90) scale(1.0628 1)" font-size="35.23" fill="#000" text-anchor="middle" stroke="#000" stroke-width="0.45" stroke-linejoin="round">log10 MicroBridge Probability</text>
<rect x="1359.2" y="158.8" width="275.6" height="99.8" fill="#fff" stroke="#000" stroke-width="1.6"/>
<ellipse cx="1404.6" cy="189.3" rx="7.3" ry="6.2" fill="#ff0000"/>
<ellipse cx="1404.6" cy="233.5" rx="7.3" ry="6.2" fill="#008000"/>
<text id="leg1" transform="translate(1457.40 198.50) scale(1.0537 1)" font-size="31.40" fill="#000" text-anchor="start" stroke="#000" stroke-width="0.45" stroke-linejoin="round">Dipole</text>
<text id="leg2" transform="translate(1460.10 242.90) scale(1.0785 1)" font-size="31.40" fill="#000" text-anchor="start" stroke="#000" stroke-width="0.45" stroke-linejoin="round">Split pole</text>
<rect x="1608.3" y="229" width="1.4" height="10" fill="#9fd8ee"/>
<text id="pitch" transform="translate(1117.50 674.80) scale(0.9998 1)" font-size="40.71" fill="#3893bd" text-anchor="start" stroke="#3893bd" stroke-width="0.60" stroke-linejoin="round">Pitch 50nm</text>
<path d="M1288.2 336.8L1343.1 282.3V308.6H1673.5V363.5H1343.1V391.4Z" fill="#1a81b5" fill-opacity="0.42" stroke="none"/>
<path d="M1288.2 336.8L1343.1 282.3V308.6H1673.5V363.5H1343.1V391.4Z" fill="none" stroke="#94d64b" stroke-width="5" stroke-linejoin="round"/>
<text id="small" transform="translate(1316.10 357.40) scale(0.9572 1)" font-size="57.07" fill="#fff" text-anchor="start" stroke="#fff" stroke-width="0.75" stroke-linejoin="round">Smaller trench</text>
<path d="M1728.2 301.3H1785.3V618.7H1814.4L1757 675.8L1699.7 618.7H1728.2Z" fill="#1a81b5" fill-opacity="0.42" stroke="none"/>
<path d="M1728.2 301.3H1785.3V618.7H1814.4L1757 675.8L1699.7 618.7H1728.2Z" fill="none" stroke="#94d64b" stroke-width="5" stroke-linejoin="round"/>
<text id="lower" transform="translate(1778.90 646.00) rotate(-90) scale(0.9340 1)" font-size="59.13" fill="#fff" text-anchor="start" stroke="#fff" stroke-width="0.75" stroke-linejoin="round">Lower defects</text>
<text id="hd1" transform="translate(61.60 278.50) scale(0.9446 1)" font-size="65.00" fill="#404040" text-anchor="start" stroke="#404040" stroke-width="0.45" stroke-linejoin="round">Half dose</text>
<text id="hd2" transform="translate(476.90 277.20) scale(0.9444 1)" font-size="65.00" fill="#404040" text-anchor="start" stroke="#404040" stroke-width="0.45" stroke-linejoin="round">Half dose</text>
<text id="ws1" transform="translate(-1.00 515.10) scale(0.9805 1)" font-size="66.00" fill="#404040" text-anchor="start" stroke="#404040" stroke-width="0.45" stroke-linejoin="round">+Wafer shift</text>
<text id="ws2" transform="translate(446.50 515.00) scale(0.9831 1)" font-size="66.00" fill="#404040" text-anchor="start" stroke="#404040" stroke-width="0.45" stroke-linejoin="round">+Wafer shift</text>
</svg>
</body></html>
